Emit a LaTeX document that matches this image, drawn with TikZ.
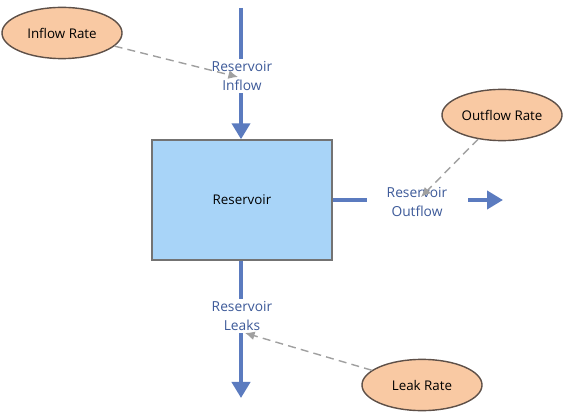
\documentclass[tikz,border=0pt]{standalone}
\usepackage{fontspec}
\setmainfont{Open Sans}
\usetikzlibrary{arrows.meta,positioning,shapes.geometric}
\definecolor{flowblue}{HTML}{5B7BBF}
\definecolor{labelblue}{HTML}{3D5A99}
\definecolor{tankblue}{HTML}{A8D4F8}
\definecolor{peach}{HTML}{F9C9A3}
\definecolor{rimbrown}{HTML}{5E5048}
\definecolor{linkgray}{HTML}{A0A0A0}

\begin{document}
\begin{tikzpicture}[x=0.025cm,y=-0.025cm,>={Triangle[length=0.4cm,width=0.45cm]}]
        \tikzstyle{rate}=[ellipse,draw=rimbrown,line width=1pt,fill=peach,minimum width=3cm,minimum height=1.28cm,inner sep=0pt,font=\fontsize{9.5}{11}\selectfont]
        \tikzstyle{flowlabel}=[fill=white,text=labelblue,align=center,inner sep=2pt,font=\fontsize{9.8}{13}\selectfont]
        \tikzstyle{flow}=[draw=flowblue,line width=2.8pt]
        \tikzstyle{link}=[draw=linkgray,line width=1pt,dash pattern=on 0.2cm off 0.13cm,-{Latex[length=2.4mm,width=2.2mm]}]
        \useasboundingbox (0,0) rectangle (564,412);

        % Stock
        \node[draw=gray!90!black,line width=1pt,fill=tankblue,minimum width=4.5cm,minimum height=3cm,font=\fontsize{9.5}{11}\selectfont] (res) at (242,200) {Reservoir};

        % Rates
        \node[rate] (inrate) at (62,33) {Inflow Rate};
        \node[rate] (outrate) at (502,115) {Outflow Rate};
        \node[rate] (leakrate) at (422,385) {Leak Rate};

        % Flow ends
        \coordinate (intop) at (241,8);
        \coordinate (outstop) at (367,200);
        \coordinate (outstart) at (468,200);
        \coordinate (outend) at (503,200);
        \coordinate (leakend) at (241,398);

        % Flows
        \draw[flow,->] (intop) -- (res.north -| intop);
        \draw[flow] (res.east) -- (outstop);
        \draw[flow,->] (outstart) -- (outend);
        \draw[flow,->] (res.south -| leakend) -- (leakend);

        % Flow labels
        \node[flowlabel] (inlbl) at (242,76) {Reservoir\\Inflow};
        \node[flowlabel] (outlbl) at (417,202) {Reservoir\\Outflow};
        \node[flowlabel] (leaklbl) at (242,316) {Reservoir\\Leaks};

        % Links
        \coordinate (inhit) at (238,77);
        \coordinate (outhit) at (421,197);
        \coordinate (leakhit) at (245,333);
        \draw[link] (inrate) -- (inhit);
        \draw[link] (outrate) -- (outhit);
        \draw[link] (leakrate) -- (leakhit);
    \end{tikzpicture}
\end{document}
